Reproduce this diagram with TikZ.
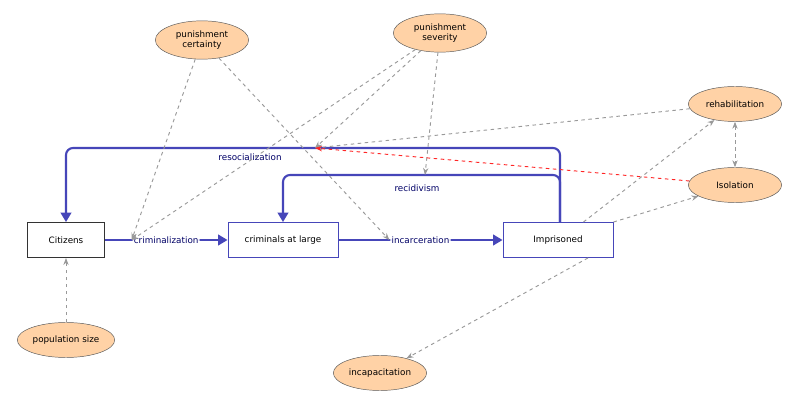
\documentclass[tikz,border=0pt]{standalone}
\usepackage{fontspec}
\setmainfont{DejaVu Sans}
\usetikzlibrary{arrows.meta,shapes.geometric}

\begin{document}
\begin{tikzpicture}[x=0.03cm,y=-0.03cm,font=\fontsize{7.5}{9}\selectfont]
  \tikzset{stock/.style={draw=blue!45!gray,thick,fill=white,minimum width=3.3cm,minimum height=1.05cm},
    aux/.style={ellipse,draw=gray!70!black,fill=orange!35,minimum width=2.8cm,minimum height=1.15cm,align=center,inner sep=1pt},
    flow/.style={draw=blue!45!gray,line width=1.8pt,-{Triangle[length=8pt,width=9pt]},rounded corners=6pt},
    flab/.style={text=blue!40!black,fill=white,inner sep=1pt},
    link/.style={draw=gray!80,dashed,thick,-{Stealth[length=6pt]}},
    neg/.style={draw=red!85,dashed,thick,-{Stealth[length=6pt]}}}
  \useasboundingbox (0,0) rectangle (800,402);
  \node[stock,draw=gray!40!black,minimum width=2.3cm] (cit) at (66,240) {Citizens};
  \node[stock] (cal) at (283,240) {criminals at large};
  \node[stock] (imp) at (558,240) {Imprisoned};
  \node[aux] (pc) at (202,40) {punishment\\certainty};
  \node[aux] (ps) at (440,33) {punishment\\severity};
  \node[aux,minimum height=1.05cm] (reh) at (735,104) {rehabilitation};
  \node[aux,minimum height=1.05cm] (iso) at (735,185) {Isolation};
  \node[aux,minimum height=1.05cm] (pop) at (66,340) {population size};
  \node[aux,minimum height=1.05cm] (inc) at (380,373) {incapacitation};
  % flows
  \coordinate (res) at (315,148);
  \coordinate (rec) at (425,175);
  \draw[flow] (cit) -- node[flab] (crim) {criminalization} (cal);
  \draw[flow] (cal) -- node[flab] (inca) {incarceration} (imp);
  \draw[flow] (imp.north) ++(2,0) |- (res) -| (cit.north);
  \draw[flow] (imp.north) ++(2,0) |- (rec) -| (cal.north);
  \node[flab,fill=none] at (250,157) {resocialization};
  \node[flab,fill=none] at (417,188) {recidivism};
  % links
  \draw[link] (pc) -- (crim.west);
  \draw[link] (pc) -- (inca.west);
  \draw[link] (ps) -- (crim.west);
  \draw[link] (ps) -- (res);
  \draw[link] (ps) -- (rec);
  \draw[link] (reh) -- (res);
  \draw[neg] (iso) -- (res);
  \draw[link] (imp.north east) ++(-30,0) -- (reh);
  \draw[link] (imp.north east) -- (iso);
  \draw[link,{Stealth[length=6pt]}-{Stealth[length=6pt]}] (reh) -- (iso);
  \draw[link] (imp.south) ++(30,0) -- (inc);
  \draw[link] (pop) -- (cit);
\end{tikzpicture}
\end{document}
